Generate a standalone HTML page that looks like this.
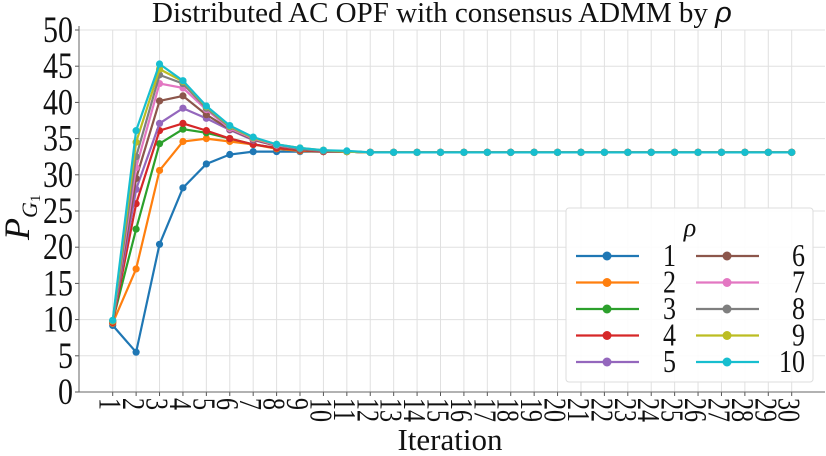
<!DOCTYPE html>
<html><head><meta charset="utf-8"><style>
body{margin:0;background:#fff}
svg{display:block}
text{font-family:"Liberation Serif",serif;fill:#111}
</style></head><body>
<svg id="chart" width="826" height="456"></svg>
<script>
const iterations=[];for(let i=1;i<=30;i++)iterations.push(i);
const rhoLabels=["1","2","3","4","5","6","7","8","9","10"];
const colors=["#1f77b4","#ff7f0e","#2ca02c","#d62728","#9467bd","#8c564b","#e377c2","#7f7f7f","#bcbd22","#17becf"];
const s1=[9.2,5.5,20.4,28.2,31.5,32.8,33.2,33.2,33.2,33.2,33.2];
const s2=[9.5,17,30.6,34.6,35.0,34.6,34.2,33.6,33.3,33.2,33.2];
const s3=[9.8,22.5,34.3,36.3,35.8,35.0,34.2,33.7,33.4,33.2,33.2];
const s4=[9.6,26,36.1,37.1,36.1,35.0,34.2,33.7,33.4,33.2,33.2];
const s5=[9.8,28,37.1,39.2,37.8,36.2,34.8,34.0,33.5,33.3,33.2];
const s6=[9.8,29.5,40.2,40.9,38.3,36.3,34.9,34.0,33.5,33.3,33.2];
const s7=[9.8,31,42.6,42.0,39.0,36.4,35.0,34.1,33.6,33.3,33.2];
const s8=[9.8,32.5,43.8,42.6,39.2,36.6,35.1,34.2,33.6,33.3,33.2];
const s9=[9.8,34.5,44.6,42.9,39.4,36.7,35.1,34.2,33.7,33.4,33.2];
const s10=[9.9,36.1,45.3,43.0,39.5,36.8,35.2,34.2,33.7,33.4,33.3];
const steadyValue=33.1;
const yTicks=[0,5,10,15,20,25,30,35,40,45,50];
const series=[s1,s2,s3,s4,s5,s6,s7,s8,s9,s10].map(s=>{const a=s.slice();while(a.length<30)a.push(steadyValue);return a;});
const NS="http://www.w3.org/2000/svg",svg=document.getElementById("chart");
function mk(t,a,p){const e=document.createElementNS(NS,t);for(const k in a)e.setAttribute(k,a[k]);(p||svg).appendChild(e);return e;}
const L=79,R=825,T=30,B=392;
const xs=i=>112.7+(i-1)*(791.7-112.7)/29;
const ys=v=>B-(v-0)*(B-T)/50;
const grid=mk("g",{});
yTicks.forEach(v=>{mk("line",{x1:L,x2:R,y1:ys(v),y2:ys(v),stroke:"#e0e0e0","stroke-width":1},grid);
 mk("line",{x1:L-4,x2:L,y1:ys(v),y2:ys(v),stroke:"#555"});
 const t=mk("text",{x:0,y:0,"text-anchor":"end","font-size":30,transform:`translate(73,${ys(v)+12}) scale(1,1.25)`});t.textContent=v;
 });
iterations.forEach(i=>{mk("line",{x1:xs(i),x2:xs(i),y1:T,y2:B,stroke:"#e0e0e0","stroke-width":1},grid);
 mk("line",{x1:xs(i),x2:xs(i),y1:B,y2:B+4,stroke:"#555"});
 const t=mk("text",{x:0,y:0,"font-size":24,transform:`translate(${xs(i)-13},${B+6}) rotate(90) scale(1,1.3)`});t.textContent=i;
 });
const ax=mk("path",{d:`M${L} ${T-4}V${B}H${R}`,fill:"none",stroke:"#666","stroke-width":1});

series.forEach((s,k)=>{const g=mk("g",{});
 
 mk("polyline",{points:s.map((v,i)=>xs(iterations[i])+","+ys(v)).join(" "),fill:"none",stroke:colors[k],"stroke-width":2.2},g);
 s.forEach((v,i)=>mk("circle",{cx:xs(iterations[i]),cy:ys(v),r:3.6,fill:colors[k]},g));});
let t=mk("text",{x:152,y:22,"font-size":29});t.innerHTML='Distributed AC OPF with consensus ADMM by <tspan font-family="Liberation Sans,sans-serif" font-style="italic">ρ</tspan>';

t=mk("text",{x:0,y:0,"font-size":36,transform:"translate(29,240) rotate(-90)","font-family":"Liberation Sans,sans-serif","font-style":"italic"});
t.innerHTML='P<tspan font-size="22" dy="8">G</tspan><tspan font-size="15" dy="3" font-style="normal">1</tspan>';

t=mk("text",{x:450,y:450,"text-anchor":"middle","font-size":31});t.textContent="Iteration";

const lg=mk("g",{});
mk("rect",{x:566,y:208,width:247,height:174,rx:3,fill:"#fff","fill-opacity":0.9,stroke:"#ddd"},lg);
t=mk("text",{x:690,y:236,"text-anchor":"middle","font-size":26,"font-family":"Liberation Sans,sans-serif","font-style":"italic"},lg);t.textContent="ρ";

rhoLabels.forEach((lab,k)=>{const col=k<5?0:1,row=k%5;const y=256+row*26.5;const x0=col?696:576,tx=col?805:676;
 const e=mk("g",{},lg);
 mk("line",{x1:x0,x2:x0+63,y1:y,y2:y,stroke:colors[k],"stroke-width":2.2},e);
 mk("circle",{cx:x0+31,cy:y,r:4.5,fill:colors[k]},e);
 const tt=mk("text",{x:0,y:0,"text-anchor":"end","font-size":26,transform:`translate(${tx},${y+10}) scale(1,1.2)`},e);tt.textContent=lab;});
</script>
</body></html>
